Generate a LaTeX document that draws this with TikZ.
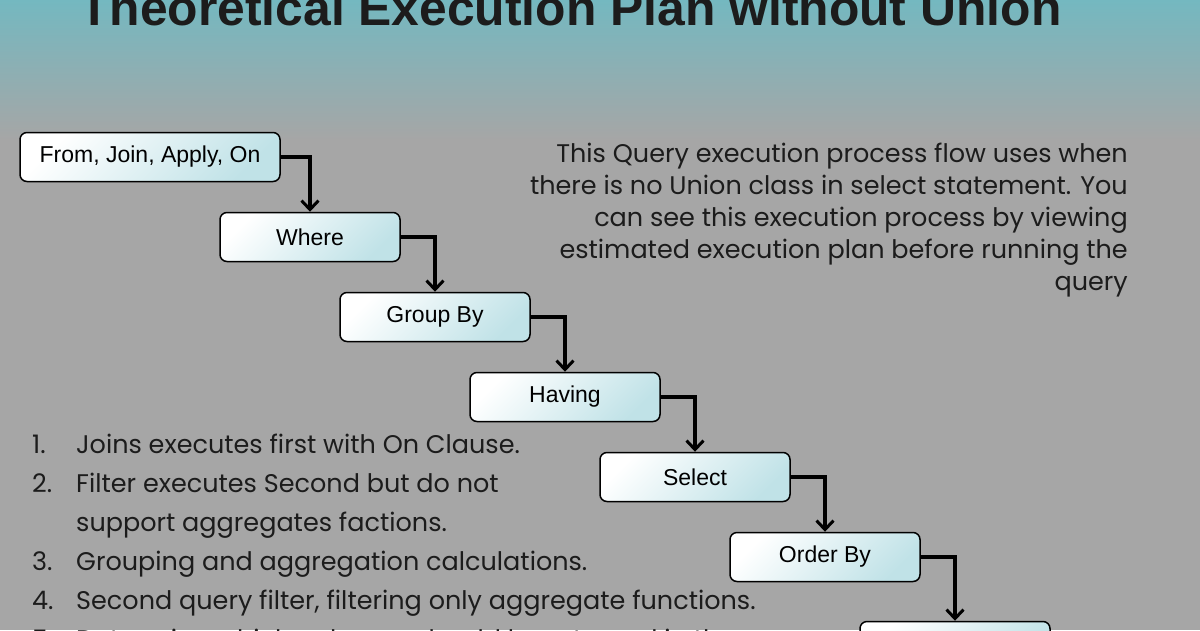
\documentclass[tikz,border=0pt]{standalone}
\usepackage{fontspec}
\setmainfont{Poppins}
\newfontfamily\boxfont{Liberation Sans}
\usetikzlibrary{calc,arrows,arrows.meta,positioning}
\definecolor{bgteal}{RGB}{116,184,192}
\definecolor{bggray}{RGB}{166,166,166}
\definecolor{boxteal}{RGB}{192,226,231}
\definecolor{inktext}{RGB}{28,28,28}

\begin{document}
\begin{tikzpicture}[x=1pt, y=-1pt,
        line/.style={-{Straight Barb[length=9pt, width=17pt, line width=3pt]}, line width=3.5pt},
        stepbox/.style={draw=black, line width=1.5pt, rounded corners=7pt, left color=white, right color=boxteal, shading angle=45, minimum width=190pt, minimum height=49pt, inner sep=0pt, font=\boxfont\fontsize{23}{26}\selectfont},
        listtext/.style={anchor=base west, text=inktext, font=\fontsize{25.5}{30}\selectfont}]
        \useasboundingbox (0,0) rectangle (1200,630);
        \clip (0,0) rectangle (1200,630);

        % background
        \shade[top color=bgteal, bottom color=bggray] (0,0) rectangle (1200,140);
        \fill[bggray] (0,140) rectangle (1200,630);

        \node[anchor=base west, inner sep=0pt, text=inktext, font=\boxfont\bfseries\fontsize{49.8}{52}\selectfont] (title) at (79,25) {Theoretical Execution Plan without Union};

        % steps
        \node[stepbox, minimum width=260pt] (from) at (150,157) {From, Join, Apply, On};
        \node[stepbox, minimum width=180pt] (where) at (310,237) {Where};
        \node[stepbox] (group) at (435,317) {Group By};
        \node[stepbox] (having) at (565,397) {Having};
        \node[stepbox] (select) at (695,477) {Select};
        \node[stepbox] (order) at (825,557) {Order By};
        \node[stepbox] (next) at (955,646) {};

        \draw[line] (from.east) -| (where.north);
        \draw[line] (where.east) -| (group.north);
        \draw[line] (group.east) -| (having.north);
        \draw[line] (having.east) -| (select.north);
        \draw[line] (select.east) -| (order.north);
        \draw[line] (order.east) -| (next.north);

        \node[anchor=north east, align=right, inner sep=0pt, text=inktext, font=\fontsize{25.5}{32}\selectfont] (note) at (1128,143) {This Query execution process flow uses when\\there is no Union class in select statement. You\\can see this execution process by viewing\\estimated execution plan before running the\\query};

        % notes
        \foreach \n/\y/\t in {1./453/Joins executes first with On Clause., 2./492/Filter executes Second but do not, /531/support aggregates factions., 3./570/Grouping and aggregation calculations., 4./609/{Second query filter, filtering only aggregate functions.}, 5./648/Determine which columns should be returned in the} {
            \node[listtext, inner sep=0pt] (num\y) at (32,\y) {\n};
            \node[listtext, inner sep=0pt] (item\y) at (76,\y) {\t};
        }
    \end{tikzpicture}
\end{document}
